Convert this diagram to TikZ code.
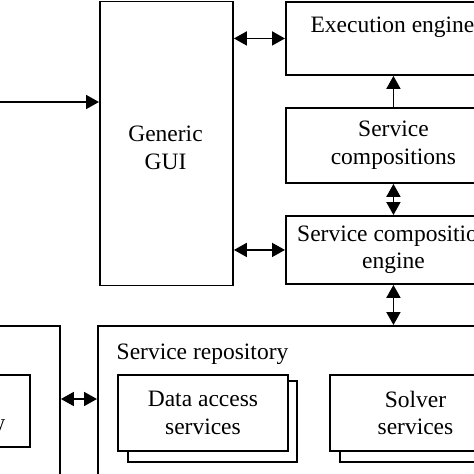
\documentclass[tikz,border=0pt]{standalone}
\usepackage{fontspec}
\setmainfont{Liberation Serif}
\usetikzlibrary{arrows.meta,calc}
\begin{document}
\begin{tikzpicture}[x=1pt,y=-1pt,
  box/.style={draw,line width=1.9pt,fill=white,inner sep=0pt,align=center,anchor=north west,
    font=\fontsize{23.5}{27.5}\selectfont},
  txt/.style={inner sep=0pt,align=center,font=\fontsize{23.5}{28}\selectfont},
  arr/.style={line width=1.8pt,-{Triangle[length=13pt,width=14pt]}},
  darr/.style={line width=1.8pt,{Triangle[length=13pt,width=14pt]}-{Triangle[length=13pt,width=14pt]}}]
\useasboundingbox (0,0) rectangle (474,474);
\clip (0,0) rectangle (474,474);
\fill[white] (0,0) rectangle (474,474);
% boxes
\node[box,minimum width=133pt,minimum height=284pt] (gui) at (99,0.5) {};
\node[txt] (guitext) at (165.5,147.5) {Generic\\GUI};
\node[box,minimum width=215pt,minimum height=73pt] (exec) at (285,1) {};
\node[txt] (exectext) at (392.5,27) {Execution engine};
\node[box,minimum width=215pt,minimum height=75pt] (comps) at (285,107) {Service\\compositions};
\node[box,minimum width=215pt,minimum height=68pt] (engine) at (285,215) {Service composition\\engine};
\node[box,minimum width=450pt,minimum height=200pt] (repo) at (97,325) {};
\node[txt,anchor=west] (repotext) at (116.5,354) {Service repository};
\node[box,minimum width=169pt,minimum height=81pt] (datashadow) at (127,380) {};
\node[box,minimum width=170pt,minimum height=76pt] (data) at (117,374) {Data access\\services};
\node[box,minimum width=171pt,minimum height=81pt] (solvershadow) at (339,380) {};
\node[box,minimum width=171pt,minimum height=76pt] (solver) at (329,374) {Solver\\services};
\node[box,minimum width=259pt,minimum height=200pt] (leftouter) at (-200,325) {};
\node[box,minimum width=229pt,minimum height=72pt] (leftinner) at (-200,374) {};
\node[txt,anchor=east] (lefttext) at (5.5,425) {w};
% connectors
\coordinate (inL) at (-10,102);
\draw[arr] (inL) -- (inL -| gui.west);
\draw[darr] (exec.west -| gui.east) -- (exec.west);
\draw[arr] (comps.north) -- (exec.south);
\draw[darr] (comps.south) -- (engine.north);
\draw[darr] (engine.west -| gui.east) -- (engine.west);
\draw[darr] (engine.south) -- (engine.south |- repo.north);
\path ([yshift=-74pt]leftouter.north east) coordinate (lr);
\draw[darr] (lr) -- (lr -| repo.west);
\end{tikzpicture}
\end{document}
